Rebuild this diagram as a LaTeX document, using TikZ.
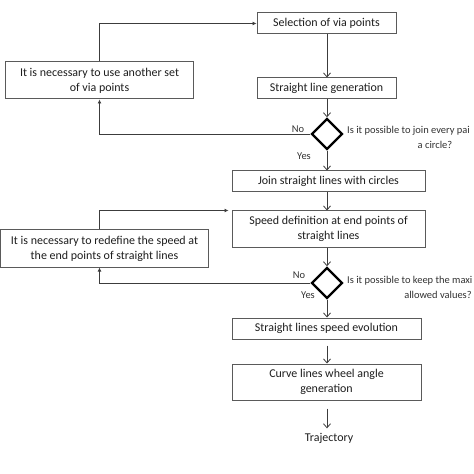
\documentclass[tikz,border=0pt]{standalone}
\usepackage{fontspec}
\setmainfont{Carlito}
\usepackage{tikz}
\usetikzlibrary{arrows.meta,shapes.geometric,positioning}
\definecolor{FlowInk}{HTML}{1E1E1E}
\definecolor{FlowEdge}{HTML}{5A5A5A}
\definecolor{FlowLine}{HTML}{3C3C3C}
\definecolor{FlowMuted}{HTML}{333333}

\begin{document}
\begin{tikzpicture}[x=1bp,y=-1bp,
    procbox/.style={draw=FlowEdge,line width=1bp,text=FlowInk,align=center,
      inner sep=1bp,font=\fontsize{12}{15}\selectfont},
    testbox/.style={diamond,draw=black,line width=2.4bp,aspect=1,
      minimum width=31bp,minimum height=31bp,inner sep=0pt},
    flowline/.style={draw=FlowLine,line width=0.8bp,
      -{Straight Barb[length=4bp,width=7bp]}},
    loopline/.style={draw=FlowLine,line width=0.8bp,
      -{Latex[length=4bp,width=4bp]}},
    asktext/.style={text=FlowMuted,inner sep=0pt,font=\fontsize{10.5}{12}\selectfont},
    answer/.style={text=FlowMuted,inner sep=0pt,font=\fontsize{10.5}{12}\selectfont}]
  \useasboundingbox[fill=white] (0,0) rectangle (474,474);
  % Via points.
  \node[procbox,minimum width=139bp,minimum height=21bp] (select) at (326.5,23.5)
       {Selection of via points};
  \node[procbox,minimum width=139bp,minimum height=21bp] (lines) at (326.5,88.5)
       {Straight line generation};
  \node[procbox,minimum width=187bp,minimum height=37bp] (reuse) at (99.5,80.5)
       {It is necessary to use another set\\of via points};
  \node[testbox] (d1) at (327,134) {};
  \node[asktext,anchor=west] (ask1) at (347,131) {Is it possible to join every pai};
  \node[asktext] (ask1b) at (435,145) {a circle?};
  \node[answer] (no1) at (298,129) {No};
  \node[answer] (yes1) at (304,156) {Yes};
  % Speed.
  \node[procbox,minimum width=193bp,minimum height=21bp] (circles) at (328.5,181.5)
       {Join straight lines with circles};
  \node[procbox,minimum width=193bp,minimum height=36bp] (speed) at (328.5,229)
       {Speed definition at end points of\\straight lines};
  \node[procbox,minimum width=207bp,minimum height=37bp] (redef) at (104.5,248.5)
       {It is necessary to redefine the speed at\\the end points of straight lines};
  \node[testbox] (d2) at (327,283) {};
  \node[asktext,anchor=west] (ask2) at (347,281) {Is it possible to keep the maxi};
  \node[asktext] (ask2b) at (438,295) {allowed values?};
  \node[answer] (no2) at (299,275) {No};
  \node[answer] (yes2) at (308,295) {Yes};
  % Output.
  \node[procbox,minimum width=189bp,minimum height=21bp] (evol) at (326.5,328.5)
       {Straight lines speed evolution};
  \node[procbox,minimum width=189bp,minimum height=36bp] (curve) at (326.5,382)
       {Curve lines wheel angle\\generation};
  \node[text=FlowInk,font=\fontsize{12}{15}\selectfont] (traj) at (329,438) {Trajectory};
  % Main flow.
  \draw[flowline] (select.south -| d1) -- (lines.north -| d1);
  \draw[flowline] (lines.south -| d1) -- (d1.north);
  \draw[flowline] (d1.south) -- (circles.north -| d1);
  \draw[flowline] (circles.south -| d1) -- (speed.north -| d1);
  \draw[flowline] (speed.south -| d1) -- (d2.north);
  \draw[flowline] (d2.south) -- (evol.north -| d2);
  \draw[flowline,shorten <=6bp] (evol.south -| d2) -- (curve.north -| d2);
  \draw[flowline,shorten <=8bp,shorten >=1bp] (curve.south -| d2) -- (traj.north -| d2);
  % Loops back.
  \draw[loopline] (d1.west) -| (reuse.south);
  \draw[loopline] (reuse.north) |- (select.west);
  \draw[loopline] (d2.west) -| (redef.south -| reuse.south);
  \draw[loopline,shorten >=3bp] (redef.north -| reuse.north) |- (speed.north west);
\end{tikzpicture}
\end{document}
